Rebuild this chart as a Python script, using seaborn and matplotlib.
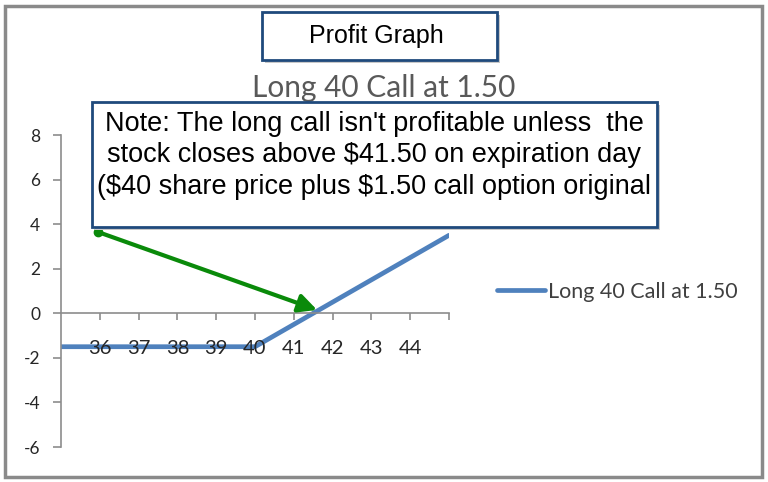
import matplotlib
matplotlib.use("Agg")
import matplotlib.pyplot as plt
from matplotlib.patches import Rectangle
import seaborn as sns
import pandas as pd

# data
strikes = [35, 36, 37, 38, 39, 40, 41, 42, 43, 44, 45]
profit = [-1.5, -1.5, -1.5, -1.5, -1.5, -1.5, -0.5, 0.5, 1.5, 2.5, 3.5]
x_ticks = [36, 37, 38, 39, 40, 41, 42, 43, 44, 45]
x_labels = ["36", "37", "38", "39", "40", "41", "42", "43", "44", ""]
y_ticks = [-6, -4, -2, 0, 2, 4, 6, 8]
series_name = "Long 40 Call at 1.50"
breakeven = 41.5
note_lines = [
    "Note: The long call isn't profitable unless  the",
    "stock closes above \\$41.50 on expiration day",
    "(\\$40 share price plus \\$1.50 call option original",
]

df = pd.DataFrame({"strike": strikes, "profit": profit, "series": series_name})

sns.set_style("white")
plt.rcParams["font.family"] = ["Lato", "DejaVu Sans"]
plt.rcParams["axes.unicode_minus"] = False
arial = ["Liberation Sans", "DejaVu Sans"]

W, H = 768, 482
fig = plt.figure(figsize=(W / 100, H / 100), dpi=100)
ax = fig.add_axes([61 / W, 1 - 447 / H, (449 - 61) / W, (447 - 135) / H])

sns.lineplot(data=df, x="strike", y="profit", hue="series", palette=["#4f81bd"],
             linewidth=3.4, ax=ax, legend=False, zorder=2)

ax.set_xlim(35, 45)
ax.set_ylim(-6, 8)
ax.set_xticks(x_ticks)
ax.set_xticklabels(x_labels)
ax.set_yticks(y_ticks)
ax.set_xlabel("")
ax.set_ylabel("")
ax.set_axisbelow(False)

for side in ["top", "right"]:
    ax.spines[side].set_visible(False)
ax.spines["bottom"].set_position(("data", 0))
for side in ["bottom", "left"]:
    ax.spines[side].set_color("#8c8c8c")
    ax.spines[side].set_linewidth(1.2)
ax.tick_params(axis="x", bottom=True, direction="out", length=5, width=1.2,
               color="#8c8c8c", labelsize=14.5, labelcolor="#262626", pad=14)
ax.tick_params(axis="y", left=True, direction="out", length=6, width=1.2,
               color="#8c8c8c", labelsize=12.5, labelcolor="#262626", pad=9)

# green arrow to the break-even point
ax.annotate("", xy=(breakeven + 0.1, 0.15), xytext=(35.95, 3.65),
            arrowprops=dict(arrowstyle="-|>,head_length=1.1,head_width=0.55",
                            color="#0a8a0a", lw=3, shrinkA=0, shrinkB=0),
            zorder=4)
ax.plot([35.95], [3.65], "o", color="#0a8a0a", markersize=6, zorder=4)

fig.text(384 / W, 1 - 88 / H, series_name, ha="center", va="center",
         fontsize=21.5, color="#595959")

# legend
handles = [plt.Line2D([], [], color="#4f81bd", lw=3.4)]
fig.legend(handles, [series_name], loc="center left",
           bbox_to_anchor=(497 / W, 1 - 292 / H), frameon=False,
           borderpad=0, borderaxespad=0,
           handlelength=2.25, handletextpad=0.1, fontsize=15.5,
           labelcolor="#404040")


def box(x0, y0, x1, y1):
    shadow = Rectangle((x0 / W + 3 / W, 1 - y1 / H - 3 / H), (x1 - x0) / W, (y1 - y0) / H,
                       transform=fig.transFigure, facecolor="#c8c8c8",
                       edgecolor="none", zorder=5)
    frame = Rectangle((x0 / W, 1 - y1 / H), (x1 - x0) / W, (y1 - y0) / H,
                      transform=fig.transFigure, facecolor="white",
                      edgecolor="#1f4a7c", linewidth=2, zorder=6)
    fig.add_artist(shadow)
    fig.add_artist(frame)


box(262, 12, 497, 60)
fig.text(376 / W, 1 - 36 / H, "Profit Graph", ha="center", va="center",
         fontsize=18, family=arial, color="black", zorder=7)

box(92, 102, 657, 227)
for i, line in enumerate(note_lines):
    fig.text(374 / W, 1 - (124 + 31.5 * i) / H, line, ha="center", va="center",
             fontsize=19.5, family=arial, color="black", zorder=7)

# outer frame
fig.add_artist(Rectangle((5 / W, 1 - 477 / H), 757 / W, 471 / H,
                         transform=fig.transFigure, facecolor="none",
                         edgecolor="#8a8a8a", linewidth=2.5, zorder=8))

fig.savefig("out.png", dpi=100)
